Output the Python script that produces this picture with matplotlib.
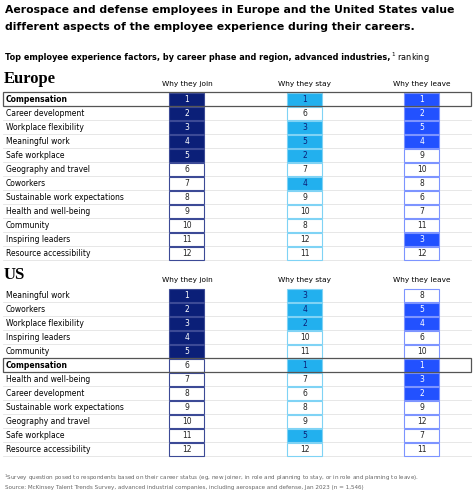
import matplotlib
matplotlib.use("Agg")
import matplotlib.pyplot as plt
from matplotlib.patches import Rectangle

eu_factors = ["Compensation", "Career development", "Workplace flexibility", "Meaningful work",
              "Safe workplace", "Geography and travel", "Coworkers", "Sustainable work expectations",
              "Health and well-being", "Community", "Inspiring leaders", "Resource accessibility"]
eu_join = [1, 2, 3, 4, 5, 6, 7, 8, 9, 10, 11, 12]
eu_stay = [1, 6, 3, 5, 2, 7, 4, 9, 10, 8, 12, 11]
eu_leave = [1, 2, 5, 4, 9, 10, 8, 6, 7, 11, 3, 12]

us_factors = ["Meaningful work", "Coworkers", "Workplace flexibility", "Inspiring leaders", "Community",
              "Compensation", "Health and well-being", "Career development", "Sustainable work expectations",
              "Geography and travel", "Safe workplace", "Resource accessibility"]
us_join = [1, 2, 3, 4, 5, 6, 7, 8, 9, 10, 11, 12]
us_stay = [3, 4, 2, 10, 11, 1, 7, 6, 8, 9, 5, 12]
us_leave = [8, 5, 4, 6, 10, 1, 3, 2, 9, 12, 7, 11]

columns = ["Why they join", "Why they stay", "Why they leave"]
fills = ["#0b1f78", "#22b0ee", "#2251ff"]
edges = ["#3c4a96", "#7fd3f5", "#7d94ff"]
txtcol = ["white", "#0b1f78", "white"]

W, H = 474, 497
fig = plt.figure(figsize=(W / 100, H / 100), dpi=100)
ax = fig.add_axes([0, 0, 1, 1])
ax.set_xlim(0, W)
ax.set_ylim(H, 0)
ax.axis("off")

ax.text(5, 10, "Aerospace and defense employees in Europe and the United States value",
        fontsize=7.8, fontweight="bold", va="center")
ax.text(5, 27, "different aspects of the employee experience during their careers.",
        fontsize=7.8, fontweight="bold", va="center")
sub = ax.text(5, 58, "Top employee experience factors, by career phase and region, advanced industries,",
              fontsize=5.9, fontweight="bold", va="center")
fig.canvas.draw()
bb = sub.get_window_extent()
ax.text(bb.x1 + 1, 58, "$^1$ ranking", fontsize=5.9, va="center")

colx = [187, 305, 422]
cw, rh = 35, 14

def table(title, top, factors, vals):
    ax.text(4, top - 13, title, fontsize=12, fontweight="bold", family="Liberation Serif", va="center")
    for c, name in enumerate(columns):
        ax.text(colx[c], top - 8, name, fontsize=5.3, ha="center", va="center")
    for i, f in enumerate(factors):
        y = top + i * rh
        comp = f == "Compensation"
        ax.plot([3, 471], [y + rh, y + rh], color="#e3e3e3", lw=0.6, zorder=0)
        ax.text(6, y + rh / 2, f, fontsize=5.5, va="center",
                fontweight="bold" if comp else "normal")
        for c in range(3):
            v = vals[c][i]
            hi = v <= 5
            ax.add_patch(Rectangle((colx[c] - cw / 2, y + 0.5), cw, rh - 1,
                                   facecolor=fills[c] if hi else "white",
                                   edgecolor=edges[c], lw=0.8, zorder=2))
            ax.text(colx[c], y + rh / 2, str(v), fontsize=5.5, ha="center", va="center",
                    color=txtcol[c] if hi else "#222222", zorder=3)
        if comp:
            ax.add_patch(Rectangle((3, y), 468, rh, fill=False, edgecolor="#555555", lw=0.9, zorder=4))

table("Europe", 92, eu_factors, [eu_join, eu_stay, eu_leave])
table("US", 288, us_factors, [us_join, us_stay, us_leave])

ax.text(4, 478, "$^1$Survey question posed to respondents based on their career status (eg, new joiner, in role and planning to stay, or in role and planning to leave).",
        fontsize=4.1, color="#666666", va="center")
ax.text(5, 488, "Source: McKinsey Talent Trends Survey, advanced industrial companies, including aerospace and defense, Jan 2023 (n = 1,546)",
        fontsize=4.1, color="#666666", va="center")

fig.savefig("out.png", dpi=100)
